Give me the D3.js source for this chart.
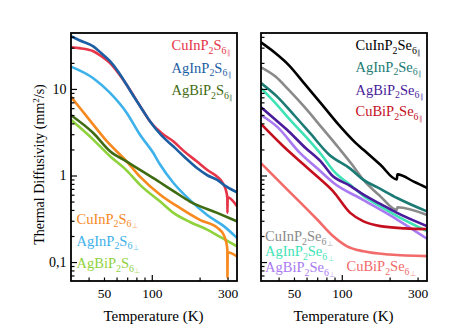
<!DOCTYPE html>
<html><head><meta charset="utf-8">
<script src="https://cdn.jsdelivr.net/npm/d3@7"></script>
<style>body{margin:0;background:#fff} svg{display:block} text{font-family:"Liberation Serif","Times New Roman",serif}</style>
</head><body><svg id="c" width="474" height="331"></svg>
<script>
// ---------- data (Temperature K, thermal diffusivity mm^2/s) ----------
const cuInP2S6Par  = [[31,30.3],[35,29.6],[42.8,27.3],[48,24],[54.6,19.9],[62,15],[69.6,11.1],[78,8.0],[88.5,5.53],[97.6,4.2],[115,3.1],[137,2.47],[160,1.9],[192.5,1.45],[225,1.15],[258,0.97],[284,0.78],[294,0.66],[299,0.55],[299.5,0.37],[300.5,0.56],[344,0.44]];
const agInP2S6Par  = [[31,40.6],[35,36.5],[42.8,31],[48,26],[54.6,20.9],[62,15.5],[69.6,11.1],[78,7.9],[88.5,5.53],[97.6,4.2],[115,2.9],[137,2.16],[160,1.65],[192.5,1.22],[225,1.0],[258,0.89],[284,0.78],[344,0.64]];
const agBiP2S6Par  = [[31,4.97],[42.8,3.1],[54.6,1.91],[69.6,1.45],[84.3,1.16],[113,0.83],[137,0.66],[174,0.5],[258,0.37],[344,0.295]];
const cuInP2S6Perp = [[31,8.1],[35.3,6.03],[42.8,3.87],[52.1,2.49],[69.6,1.45],[84.3,0.97],[113,0.6],[150.8,0.42],[202,0.305],[258,0.25],[284,0.205],[294,0.17],[299,0.14],[299.5,0.066],[300.5,0.13],[344,0.116]];
const agInP2S6Perp = [[31,18.1],[42.8,13.3],[54.6,8.99],[69.6,5.28],[84.3,2.95],[102,1.83],[113,1.33],[137,0.82],[174,0.52],[223,0.35],[284,0.26],[344,0.19]];
const agBiP2S6Perp = [[31,4.4],[42.8,2.6],[54.6,1.67],[69.6,1.14],[84.3,0.78],[113,0.5],[137,0.37],[174,0.29],[223,0.237],[284,0.185],[344,0.152]];

const cuInP2Se6Par  = [[31,34.5],[38.1,26],[46.2,19],[58.9,11.2],[75.1,6.6],[95.5,3.87],[121.7,2.4],[137,1.98],[175,1.33],[222,0.9],[224,1.03],[284,0.85],[344,0.72]];
const cuInP2Se6Perp = [[31,17.8],[38.1,14.0],[46.2,9.8],[58.9,6.04],[75.1,3.55],[95.5,2.09],[116,1.34],[137,0.89],[175,0.574],[222,0.40],[224,0.43],[344,0.35]];
const agInP2Se6Par  = [[31,11.7],[39,8.2],[50,5.0],[63,3.1],[83,1.75],[113,1.2],[137,0.89],[175,0.7],[223,0.55],[344,0.385]];
const agInP2Se6Perp = [[31,10.2],[38.1,6.9],[46.2,4.6],[58.9,2.85],[75.1,1.7],[90,1.1],[113,0.78],[137,0.58],[175,0.44],[223,0.34],[344,0.228]];
const agBiP2Se6Par  = [[31,6.15],[38.1,4.43],[46.2,3.25],[58.9,2.09],[75,1.4],[86,1.02],[113,0.76],[137,0.6],[175,0.47],[223,0.37],[344,0.26]];
const agBiP2Se6Perp = [[31,5.0],[39.1,3.67],[54.7,1.81],[70,1.21],[88.9,0.82],[137,0.52],[223,0.31],[344,0.186]];
const cuBiP2Se6Par  = [[31,3.94],[43,2.16],[58,1.32],[70,0.974],[88,0.66],[113,0.37],[137,0.295],[175,0.26],[250,0.245],[344,0.24]];
const cuBiP2Se6Perp = [[31,1.39],[43,0.76],[70,0.31],[88,0.2],[108,0.152],[137,0.133],[200,0.122],[344,0.117]];

const xDomain = [31, 344];
const yDomain = [0.0604, 44.3];
const xMajorTicks = [100];
const xMinorTicks = [40,50,60,70,80,90,200,300];
const xTickLabels = [50,100,300];
const yMajorTicks = [0.1,1,10];
const yMinorTicks = [0.07,0.08,0.09,0.2,0.3,0.4,0.5,0.6,0.7,0.8,0.9,2,3,4,5,6,7,8,9,20,30,40];
const yTickLabel = v => v === 0.1 ? "0,1" : String(v);

// ---------- layout ----------
const svg = d3.select("#c");
const yTop = 33, yBot = 281;
const y = d3.scaleLog().domain(yDomain).range([yBot, yTop]);
const PAR = "\u2225", PERP = "\u22A5";

const panels = [
  { x0: 71, x1: 237, yLabels: true,
    series: [
      {d: agBiP2S6Perp, c: "#8fd23c"}, {d: agInP2S6Perp, c: "#3db1ea"}, {d: cuInP2S6Perp, c: "#f7891f"},
      {d: agBiP2S6Par, c: "#3f6c12"}, {d: cuInP2S6Par, c: "#e63448"}, {d: agInP2S6Par, c: "#1c5ea3"}],
    labels: [
      {t: ["CuInP","2","S","6",PAR], c: "#e63448", x: 171.5, y: 50},
      {t: ["AgInP","2","S","6",PAR], c: "#1c5ea3", x: 171.5, y: 72.5},
      {t: ["AgBiP","2","S","6",PAR], c: "#3f6c12", x: 171.5, y: 95},
      {t: ["CuInP","2","S","6",PERP], c: "#f7891f", x: 76.5, y: 223.5},
      {t: ["AgInP","2","S","6",PERP], c: "#3db1ea", x: 76.5, y: 245.5},
      {t: ["AgBiP","2","S","6",PERP], c: "#8fd23c", x: 76.5, y: 268}]},
  { x0: 261, x1: 427, yLabels: false,
    series: [
      {d: cuBiP2Se6Perp, c: "#f26a6a"}, {d: agBiP2Se6Perp, c: "#a97af2"}, {d: agInP2Se6Perp, c: "#3fe3b6"},
      {d: cuInP2Se6Perp, c: "#8a8a8a"}, {d: cuBiP2Se6Par, c: "#c4101e"}, {d: agBiP2Se6Par, c: "#4a1c9c"},
      {d: agInP2Se6Par, c: "#1b7b74"}, {d: cuInP2Se6Par, c: "#000000"}],
    labels: [
      {t: ["CuInP","2","Se","6",PAR], c: "#000000", x: 355.5, y: 50},
      {t: ["AgInP","2","Se","6",PAR], c: "#1b7b74", x: 355.5, y: 71.5},
      {t: ["AgBiP","2","Se","6",PAR], c: "#4a1c9c", x: 355.5, y: 94.5},
      {t: ["CuBiP","2","Se","6",PAR], c: "#c4101e", x: 355.5, y: 116},
      {t: ["CuInP","2","Se","6",PERP], c: "#8a8a8a", x: 265, y: 241},
      {t: ["AgInP","2","Se","6",PERP], c: "#3fe3b6", x: 265, y: 256},
      {t: ["AgBiP","2","Se","6",PERP], c: "#a97af2", x: 265, y: 272},
      {t: ["CuBiP","2","Se","6",PERP], c: "#f26a6a", x: 346.5, y: 271}]}
];

const FS = 14.5;
function formula(g, lab) {
  const t = g.append("text").attr("x", lab.x).attr("y", lab.y).attr("fill", lab.c).attr("font-size", FS);
  const [a, sub1, b, sub2, sym] = lab.t;
  t.append("tspan").text(a);
  t.append("tspan").attr("font-size", FS*0.68).attr("dy", 3.5).text(sub1);
  t.append("tspan").attr("dy", -3.5).text(b);
  t.append("tspan").attr("font-size", FS*0.68).attr("dy", 3.5).text(sub2);
  t.append("tspan").attr("font-size", FS*0.5).attr("dy", 1).attr("dx", 0.5).attr("fill-opacity", 0.75).text(sym);
}

panels.forEach((p, i) => {
  const x = d3.scaleLog().domain(xDomain).range([p.x0, p.x1]);
  const g = svg.append("g");
  const clipId = "clip" + i;
  svg.append("defs").append("clipPath").attr("id", clipId)
    .append("rect").attr("x", p.x0).attr("y", yTop).attr("width", p.x1 - p.x0).attr("height", yBot - yTop);

  const line = d3.line().x(d => x(d[0])).y(d => y(d[1])).curve(d3.curveMonotoneX);
  const lg = g.append("g").attr("clip-path", `url(#${clipId})`);
  p.series.forEach(s => {
    lg.append("path").attr("d", line(s.d)).attr("fill", "none")
      .attr("stroke", s.c).attr("stroke-width", 2.6).attr("stroke-linejoin", "round");
  });

  // x axis ticks (inward)
  const gx = g.append("g").attr("transform", `translate(0,${yBot})`);
  gx.append("g").call(d3.axisBottom(x).tickValues(xMinorTicks).tickSize(-3.5).tickFormat(""));
  gx.append("g").call(d3.axisBottom(x).tickValues(xMajorTicks).tickSize(-6).tickFormat(""));
  gx.append("g").call(d3.axisBottom(x).tickValues(xTickLabels).tickSize(0).tickPadding(7).tickFormat(d3.format("d")))
    .selectAll("text").attr("font-size", 13.5).attr("fill", "#000");
  gx.selectAll(".domain").remove();
  gx.selectAll("line").attr("stroke", "#000").attr("stroke-width", 1.2);

  // y axis ticks (inward)
  const gy = g.append("g").attr("transform", `translate(${p.x0},0)`);
  gy.append("g").call(d3.axisLeft(y).tickValues(yMinorTicks).tickSize(-3.5).tickFormat(""));
  const maj = gy.append("g").call(d3.axisLeft(y).tickValues(yMajorTicks).tickSize(-6).tickPadding(4.5)
      .tickFormat(p.yLabels ? yTickLabel : () => ""));
  maj.selectAll("text").attr("font-size", 14).attr("fill", "#000");
  gy.selectAll(".domain").remove();
  gy.selectAll("line").attr("stroke", "#000").attr("stroke-width", 1.2);

  // frame
  g.append("rect").attr("x", p.x0).attr("y", yTop).attr("width", p.x1 - p.x0).attr("height", yBot - yTop)
    .attr("fill", "none").attr("stroke", "#000").attr("stroke-width", 1.8);

  // x title
  g.append("text").attr("x", (p.x0 + p.x1) / 2 - 0.5).attr("y", 321).attr("text-anchor", "middle")
    .attr("font-size", 15).attr("fill", "#000").text("Temperature (K)");

  p.labels.forEach(l => formula(g, l));
});

// y title
const yt = svg.append("text").attr("transform", "translate(44,164.5) rotate(-90)").attr("text-anchor", "middle")
  .attr("font-size", 14).attr("fill", "#000");
yt.append("tspan").text("Thermal Diffusivity (mm");
yt.append("tspan").attr("font-size", 9).attr("dy", -5).text("2");
yt.append("tspan").attr("dy", 5).text("/s)");
</script></body></html>
